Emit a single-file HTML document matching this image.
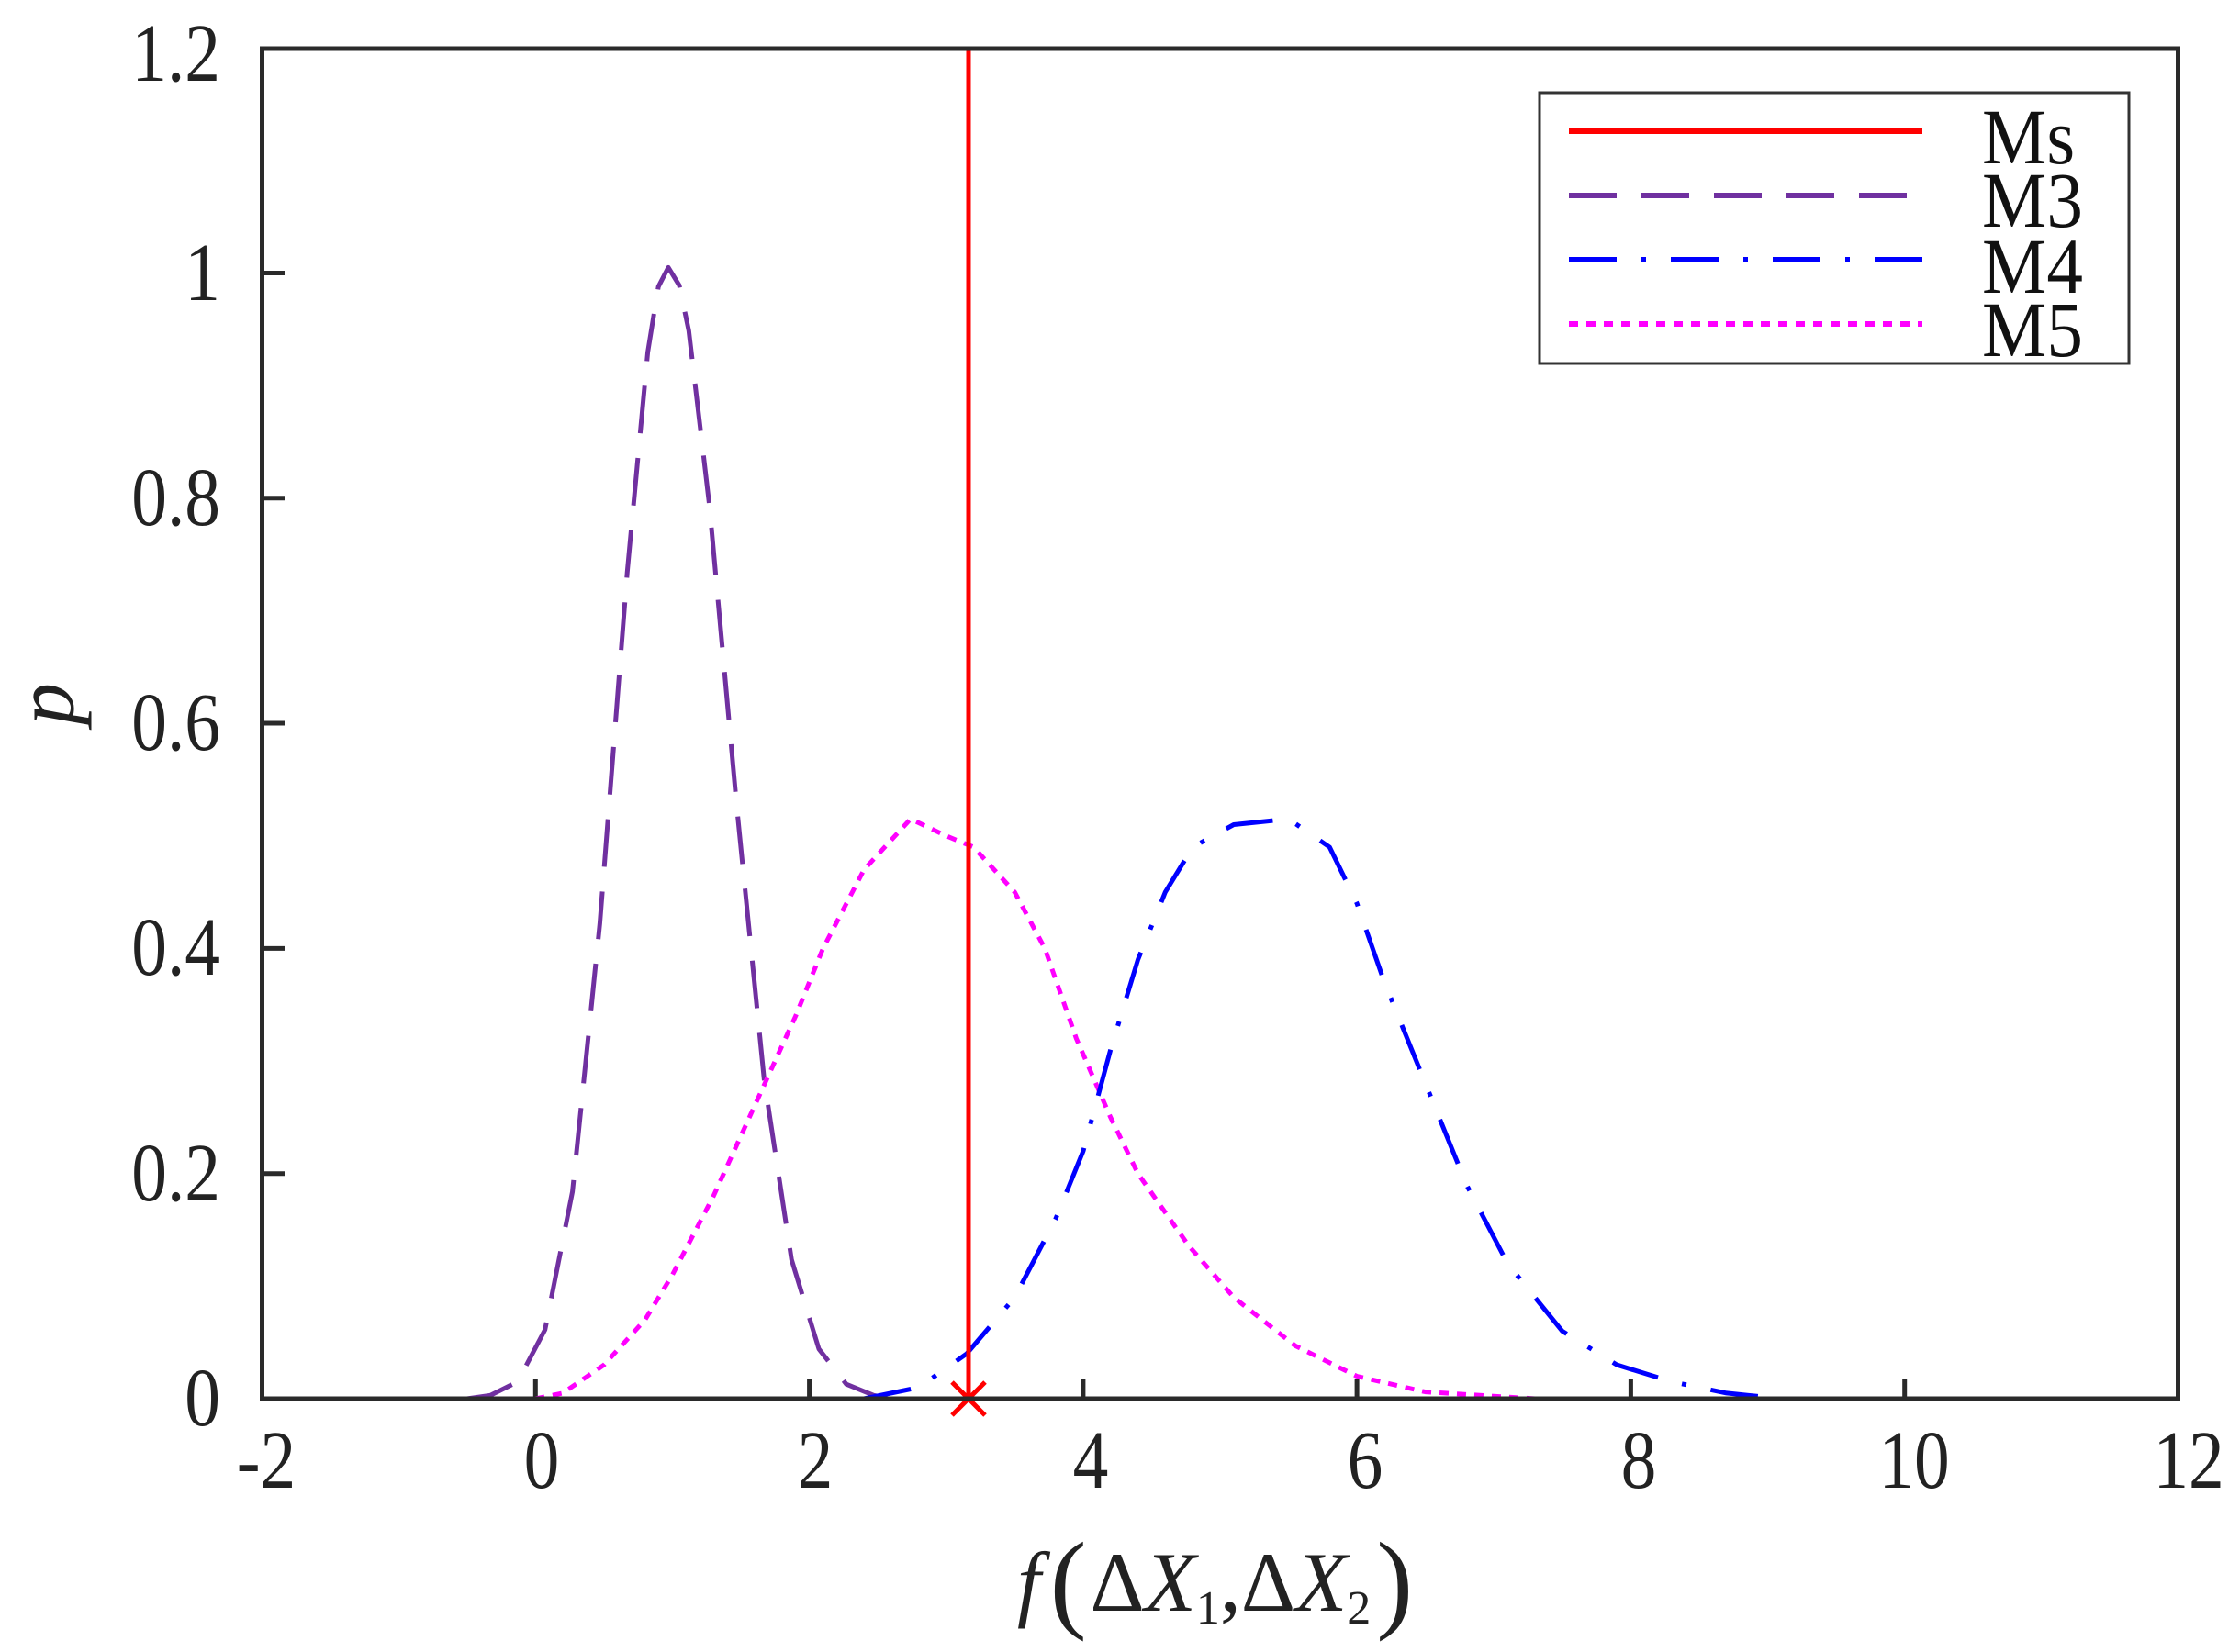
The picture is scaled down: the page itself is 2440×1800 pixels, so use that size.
<!DOCTYPE html>
<html><head><meta charset="utf-8"><style>html,body{margin:0;padding:0;background:#fff}svg{display:block}</style></head>
<body>
<svg width="2440" height="1800" viewBox="0 0 2440 1800" xmlns="http://www.w3.org/2000/svg">
<rect width="2440" height="1800" fill="#fff"/>
<g font-family="Liberation Serif, serif" fill="#222" font-size="90">
  <g text-anchor="end">
    <text transform="translate(240,1553) scale(0.86,1)">0</text>
    <text transform="translate(240,1308) scale(0.86,1)">0.2</text>
    <text transform="translate(240,1062) scale(0.86,1)">0.4</text>
    <text transform="translate(240,817) scale(0.86,1)">0.6</text>
    <text transform="translate(240,572) scale(0.86,1)">0.8</text>
    <text transform="translate(240,327) scale(0.86,1)">1</text>
    <text transform="translate(240,88) scale(0.86,1)">1.2</text>
  </g>
  <g text-anchor="middle">
    <text transform="translate(290,1621) scale(0.86,1)">-2</text>
    <text transform="translate(590,1621) scale(0.86,1)">0</text>
    <text transform="translate(888,1621) scale(0.86,1)">2</text>
    <text transform="translate(1188,1621) scale(0.86,1)">4</text>
    <text transform="translate(1487,1621) scale(0.86,1)">6</text>
    <text transform="translate(1785,1621) scale(0.86,1)">8</text>
    <text transform="translate(2085,1621) scale(0.86,1)">10</text>
    <text transform="translate(2384,1621) scale(0.86,1)">12</text>
  </g>
  <text transform="translate(1108,1755)" font-size="92"><tspan font-style="italic">f</tspan><tspan font-size="120" dy="8" dx="10">(</tspan><tspan dy="-8" dx="4">Δ</tspan><tspan font-style="italic">X</tspan><tspan font-size="52" dy="14">1</tspan><tspan dy="-14">,Δ</tspan><tspan font-style="italic">X</tspan><tspan font-size="52" dy="14">2</tspan><tspan font-size="120" dy="-6" dx="6">)</tspan></text>
  <text transform="translate(80,790) rotate(-90)" font-style="italic" font-size="92">p</text>
</g>

<g stroke="#2a2a2a" stroke-width="5">
  <path d="M286 1278.7h24M286 1033.4h24M286 788h24M286 542.8h24M286 297.5h24"/>
  <path d="M583.3 1524v-22M881.6 1524v-22M1179.9 1524v-22M1478.1 1524v-22M1776.4 1524v-22M2074.7 1524v-22"/>
</g>

<g fill="none" stroke-width="5" stroke-linejoin="round">
  <polyline stroke="#7030a0" stroke-dasharray="52,27" points="508.7,1524 534.1,1520.4 563.9,1505.5 593.7,1448.8 623.6,1298.4 653.4,1006.3 683.2,624.2 705.6,383.8 717.2,312.3 728,291.4 740,311.1 750.3,360.4 772.7,550.2 802.5,878.1 832.4,1176.4 862.2,1372.4 892,1469.8 921.9,1508.2 951.7,1520.3 970,1524"/>
  <polyline stroke="#ff00ff" stroke-dasharray="10,9" points="583.3,1524 613.1,1517.9 657.9,1487.2 702.6,1438.1 732.4,1389.1 777.2,1303.2 821.9,1205.1 866.7,1107 896.5,1033.4 941.2,947.5 991.9,892.3 1030.7,910.8 1060.5,923 1105.3,972.1 1138.1,1033.4 1172.4,1131.5 1209.7,1217.4 1239.5,1278.7 1294.7,1357.2 1343.9,1413.6 1411,1466.4 1478.1,1499.5 1552.7,1516.6 1672,1524"/>
  <polyline stroke="#0000ff" stroke-dasharray="52,27,5,27" points="941.2,1524 1000.9,1511.7 1053.1,1474.9 1105.3,1413.6 1150,1327.8 1179.9,1254.2 1209.7,1143.8 1239.5,1045.7 1269.3,972.1 1299.2,923 1343.9,898.5 1403.6,892.3 1448.3,923 1478.1,984.3 1508,1070.2 1552.7,1180.6 1597.5,1291 1642.2,1376.8 1701.8,1450.4 1761.5,1487.2 1821.2,1505.6 1880.8,1517.9 1940.5,1524"/>
</g>
<line x1="1055" y1="53" x2="1055" y2="1524" stroke="#ff0000" stroke-width="5"/>
<path d="M1037 1506l36 36M1073 1506l-36 36" stroke="#ff0000" stroke-width="5"/>

<rect x="285.5" y="53" width="2087" height="1471" fill="none" stroke="#2a2a2a" stroke-width="5"/>

<rect x="1677" y="101" width="642" height="295" fill="#fff" stroke="#333" stroke-width="3"/>
<g stroke-width="6" fill="none">
  <line x1="1709" y1="143" x2="2094" y2="143" stroke="#ff0000"/>
  <line x1="1709" y1="213" x2="2094" y2="213" stroke="#7030a0" stroke-dasharray="52,27"/>
  <line x1="1709" y1="283" x2="2094" y2="283" stroke="#0000ff" stroke-dasharray="52,27,5,27"/>
  <line x1="1709" y1="353" x2="2094" y2="353" stroke="#ff00ff" stroke-dasharray="10,9"/>
</g>
<g font-family="Liberation Serif, serif" fill="#111" font-size="86">
  <text transform="translate(2159,178) scale(0.92,1)">Ms</text>
  <text transform="translate(2159,247) scale(0.92,1)">M3</text>
  <text transform="translate(2159,319) scale(0.92,1)">M4</text>
  <text transform="translate(2159,388) scale(0.92,1)">M5</text>
</g>
</svg>
</body></html>
